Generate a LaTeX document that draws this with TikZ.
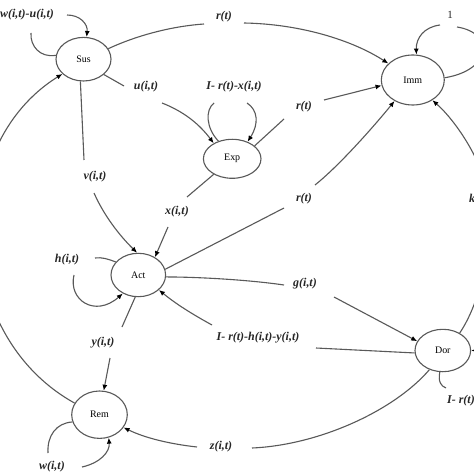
\documentclass[tikz,border=0pt]{standalone}
\usepackage{fontspec}
\setmainfont{Liberation Serif}
\usetikzlibrary{arrows.meta,shapes.geometric}
\begin{document}
\begin{tikzpicture}[x=1bp,y=-1bp,
  st/.style={ellipse, draw=black!65, line width=1.1bp, inner sep=0pt, font=\fontsize{10}{12}\selectfont},
  lbl/.style={font=\fontsize{12}{14}\selectfont\bfseries\itshape, inner sep=0pt, text=black!85},
  ln/.style={draw=black!65, line width=1.1bp},
  arr/.style={ln, -{Latex[length=6bp,width=5bp,color=black]}}]
\useasboundingbox (0,0) rectangle (474,474);
\clip (0,0) rectangle (474,474);
\fill[white] (0,0) rectangle (474,474);
% states
\node[st, minimum width=55bp, minimum height=43.6bp] (Sus) at (83.5,59.2) {Sus};
\node[st, minimum width=63bp, minimum height=50bp] (Imm) at (412.8,80) {Imm};
\node[st, minimum width=57.6bp, minimum height=39bp] (Exp) at (232.2,158.8) {Exp};
\node[st, minimum width=54.6bp, minimum height=43.4bp] (Act) at (138.3,275) {Act};
\node[st, minimum width=55.6bp, minimum height=42.4bp] (Dor) at (442.8,350.5) {Dor};
\node[st, minimum width=55.6bp, minimum height=47.4bp] (Rem) at (99.5,414.7) {Rem};
% labels
\node[lbl] (L1) at (224,17) {r(t)};
\node[lbl, font=\fontsize{11}{13}\selectfont] (L2) at (450,15) {1};
\node[lbl] (L3) at (27,15) {w(i,t)-u(i,t)};
\node[lbl] (L4) at (146,87) {u(i,t)};
\node[lbl] (L5) at (234,87) {I- r(t)-x(i,t)};
\node[lbl] (L6) at (304,107) {r(t)};
\node[lbl] (L7) at (95,177) {v(i,t)};
\node[lbl] (L8) at (177,212) {x(i,t)};
\node[lbl] (L9) at (67,260) {h(i,t)};
\node[lbl] (L10) at (304,199) {r(t)};
\node[lbl] (L11) at (305,284) {g(i,t)};
\node[lbl] (L12) at (258,338) {I- r(t)-h(i,t)-y(i,t)};
\node[lbl] (L13) at (103,343) {y(i,t)};
\node[lbl] (L14) at (52,467) {w(i,t)};
\node[lbl] (L15) at (221,447) {z(i,t)};
\node[lbl, anchor=west] (L16) at (447,401) {I- r(t)};
\node[lbl, anchor=west] (L17) at (469,200) {k(i,t)};
% free ends
\coordinate (e1a) at (204,24); \coordinate (e1b) at (244,23);
\coordinate (e2a) at (440,25); \coordinate (e2b) at (457,27);
\coordinate (e3a) at (31,33); \coordinate (e3b) at (67,15);
\coordinate (e4a) at (124,86); \coordinate (e4b) at (162,103);
\coordinate (e5a) at (214,103); \coordinate (e5b) at (247,103);
\coordinate (e6a) at (284,119); \coordinate (e6b) at (324,100);
\coordinate (e7a) at (84,160); \coordinate (e7b) at (94,193);
\coordinate (e8a) at (187,197); \coordinate (e8b) at (168,227);
\coordinate (e9a) at (95,258); \coordinate (e9b) at (74,275);
\coordinate (e10a) at (284,208); \coordinate (e10b) at (315,185);
\coordinate (e11a) at (284,285); \coordinate (e11b) at (334,297);
\coordinate (e12a) at (316,348); \coordinate (e12b) at (212,325);
\coordinate (e13a) at (122,327); \coordinate (e13b) at (110,358);
\coordinate (e14a) at (48,453); \coordinate (e14b) at (82,467);
\coordinate (e15a) at (252,448); \coordinate (e15b) at (197,447);
\coordinate (e16a) at (446,388);
\coordinate (e17a) at (486,255); \coordinate (e17b) at (486,190);
\coordinate (e19) at (492,350);
% connectors
\draw[ln] (Sus.23) .. controls (140,34) and (175,26) .. (e1a);
\draw[arr] (e1b) .. controls (300,24) and (352,40) .. (Imm.146);
\draw[arr] (e2a) .. controls (424,27) and (416,38) .. (Imm.82);
\draw[ln] (Imm.4) .. controls (492,70) and (495,33) .. (e2b);
\draw[ln] (Sus.172) .. controls (40,58) and (30,46) .. (e3a);
\draw[arr] (e3b) .. controls (80,15) and (88,24) .. (Sus.82);
\draw[ln] (Sus.-37) -- (e4a);
\draw[arr] (e4b) .. controls (185,112) and (200,125) .. (Exp.140);
\draw[ln] (Exp.128) .. controls (206,128) and (205,110) .. (e5a);
\draw[arr] (e5b) .. controls (258,110) and (259,124) .. (Exp.48);
\draw[ln] (Exp.30) -- (e6a);
\draw[arr] (e6b) -- (Imm.190);
\draw[ln] (Sus.-98) -- (e7a);
\draw[arr] (e7b) .. controls (106,220) and (124,240) .. (Act.93);
\draw[ln] (Exp.-140) -- (e8a);
\draw[arr] (e8b) -- (Act.47);
\draw[ln] (Act.150) .. controls (108,259) and (102,257) .. (e9a);
\draw[arr] (e9b) .. controls (68,300) and (95,318) .. (Act.-130);
\draw[ln] (Act.12) -- (e10a);
\draw[arr] (e10b) .. controls (340,165) and (375,125) .. (Imm.-131);
\draw[ln] (Act.-4) .. controls (200,277) and (250,280) .. (e11a);
\draw[arr] (e11b) -- (Dor.160);
\draw[ln] (Dor.185) -- (e12a);
\draw[arr] (e12b) .. controls (192,314) and (176,304) .. (Act.-36);
\draw[ln] (Act.-98) -- (e13a);
\draw[arr] (e13b) -- (Rem.80);
\draw[ln] (Rem.195) .. controls (56,423) and (47,436) .. (e14a);
\draw[arr] (e14b) .. controls (100,463) and (110,452) .. (Rem.-68);
\draw[ln] (Dor.-125) .. controls (395,410) and (320,445) .. (e15a);
\draw[arr] (e15b) .. controls (170,444) and (145,438) .. (Rem.-28);
\draw[ln] (Dor.-98) .. controls (438,382) and (441,386) .. (e16a);
\draw[ln] (Dor.46) .. controls (470,318) and (482,290) .. (e17a);
\draw[arr] (e17b) .. controls (482,160) and (455,120) .. (Imm.-46);
\draw[arr] (Rem.155) .. controls (-48,335) and (-52,145) .. (Sus.-145);
\draw[arr] (e19) -- (Dor.0);
\end{tikzpicture}
\end{document}
